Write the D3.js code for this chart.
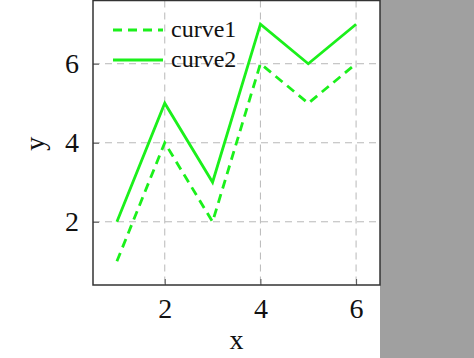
<!DOCTYPE html>
<html>
<head>
<meta charset="utf-8">
<script src="https://cdn.jsdelivr.net/npm/d3@7"></script>
<style>
  body { margin: 0; background: #fff; }
  svg { display: block; }
</style>
</head>
<body>
<script>

var xs = [1, 2, 3, 4, 5, 6];
var curve1 = [1, 4, 2, 6, 5, 6];
var curve2 = [2, 5, 3, 7, 6, 7];
var xTicks = [2, 4, 6];
var yTicks = [2, 4, 6];
var seriesNames = ["curve1", "curve2"];

var width = 474, height = 358;
var plotLeft = 93, plotRight = 380, plotTop = 0.5, plotBottom = 285;
var green = "#1bf01b";

var svg = d3.select("body").append("svg")
  .attr("width", width)
  .attr("height", height);

// gray strip on the right
svg.append("rect")
  .attr("x", plotRight).attr("y", 0)
  .attr("width", width - plotRight).attr("height", height)
  .attr("fill", "#a0a0a0");

var x = d3.scaleLinear().domain([0.5, 6.5]).range([plotLeft, plotRight]);
var y = d3.scaleLinear().domain([0.4, 7.6]).range([plotBottom, plotTop]);

// grid
svg.append("g").selectAll("line").data(xTicks).enter().append("line")
  .attr("x1", function(d){ return x(d); }).attr("x2", function(d){ return x(d); })
  .attr("y1", plotTop).attr("y2", plotBottom)
  .attr("stroke", "#b8b8b8").attr("stroke-width", 1)
  .attr("stroke-dasharray", "7,5");

svg.append("g").selectAll("line").data(yTicks).enter().append("line")
  .attr("y1", function(d){ return y(d); }).attr("y2", function(d){ return y(d); })
  .attr("x1", plotLeft).attr("x2", plotRight)
  .attr("stroke", "#b8b8b8").attr("stroke-width", 1)
  .attr("stroke-dasharray", "7,5");

// axes (tick labels only, frame drawn separately)
var font = "'Liberation Serif', 'DejaVu Serif', serif";

var xAxis = svg.append("g")
  .attr("transform", "translate(0," + plotBottom + ")")
  .call(d3.axisBottom(x).tickValues(xTicks).tickSize(-6).tickPadding(13).tickFormat(d3.format("d")));
var yAxis = svg.append("g")
  .attr("transform", "translate(" + plotLeft + ",0)")
  .call(d3.axisLeft(y).tickValues(yTicks).tickSize(-6).tickPadding(14).tickFormat(d3.format("d")));

[xAxis, yAxis].forEach(function(a){
  a.select(".domain").remove();
  a.selectAll(".tick line").attr("stroke", "#555");
  a.selectAll("text").attr("font-family", font).attr("font-size", 28).attr("fill", "#111");
});
xAxis.selectAll("text").attr("dy", "0.71em");

// frame
svg.append("rect")
  .attr("x", plotLeft).attr("y", plotTop)
  .attr("width", plotRight - plotLeft).attr("height", plotBottom - plotTop)
  .attr("fill", "none").attr("stroke", "#333").attr("stroke-width", 1.5);

// axis labels
svg.append("text")
  .attr("x", (plotLeft + plotRight) / 2).attr("y", 349)
  .attr("text-anchor", "middle")
  .attr("font-family", font).attr("font-size", 28).attr("fill", "#111")
  .text("x");

svg.append("text")
  .attr("transform", "translate(44," + (y(4) + 1) + ") rotate(-90)")
  .attr("text-anchor", "middle")
  .attr("font-family", font).attr("font-size", 28).attr("fill", "#111")
  .text("y");

// lines
var line = d3.line()
  .x(function(d, i){ return x(xs[i]); })
  .y(function(d){ return y(d); });

svg.append("path").datum(curve1)
  .attr("d", line)
  .attr("fill", "none").attr("stroke", green).attr("stroke-width", 2.8)
  .attr("stroke-dasharray", "9,6");

svg.append("path").datum(curve2)
  .attr("d", line)
  .attr("fill", "none").attr("stroke", green).attr("stroke-width", 2.8);

// legend
var legend = svg.append("g").selectAll("g").data(seriesNames).enter().append("g")
  .attr("transform", function(d, i){ return "translate(0," + (30 + i * 30) + ")"; });

legend.append("line")
  .attr("x1", 113).attr("x2", 163).attr("y1", 0).attr("y2", 0)
  .attr("stroke", green).attr("stroke-width", 2.8)
  .attr("stroke-dasharray", function(d, i){ return i === 0 ? "9,6" : null; });

legend.append("text")
  .attr("x", 171).attr("y", 0).attr("dy", "0.3em")
  .attr("font-family", font).attr("font-size", 24).attr("fill", "#111")
  .text(function(d){ return d; });

</script>
</body>
</html>
